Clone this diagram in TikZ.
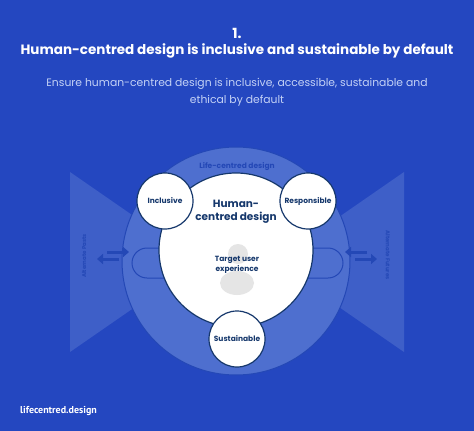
\documentclass[tikz,border=0pt]{standalone}
\usepackage{fontspec}
\setmainfont{Poppins}
\newfontfamily\footfont{PT Sans}
\usetikzlibrary{positioning,arrows.meta}

\definecolor{bgblue}{RGB}{36,71,192}
\definecolor{sideblue}{RGB}{62,95,200}
\definecolor{lifeblue}{RGB}{78,111,207}
\definecolor{lineblue}{RGB}{36,72,182}
\definecolor{navy}{RGB}{22,56,108}
\definecolor{subtext}{RGB}{196,210,246}

\begin{document}
\begin{tikzpicture}[x=1pt, y=-1pt,
    every node/.style={inner sep=0pt, align=center},
    smallcirc/.style={circle, draw=navy, line width=1.2pt, fill=white, minimum size=56pt,
        font=\fontsize{7.5}{9}\selectfont\bfseries, text=navy},
    pill/.style={draw=lineblue, line width=1pt, fill=lifeblue, rounded corners=15pt},
    swap/.style={-{Triangle[length=6pt,width=10pt]}, line width=3pt, draw=lineblue},
    sidelabel/.style={font=\fontsize{5.5}{6}\selectfont\bfseries, text=lineblue}]
    \useasboundingbox (0,0) rectangle (474,431);
    \fill[bgblue] (0,0) rectangle (474,431);

    % header
    \node[text=white, font=\fontsize{14}{16}\selectfont\bfseries] (num) at (237,33) {1.};
    \node[text=white, font=\fontsize{13.5}{16}\selectfont\bfseries] (title) at (237,51)
        {Human-centred design is inclusive and sustainable by default};
    \node[text=subtext, font=\fontsize{10.8}{17}\selectfont] (intro) at (237,92)
        {Ensure human-centred design is inclusive, accessible, sustainable and\\ethical by default};

    % alternate pasts and futures
    \fill[sideblue] (70,172) -- (200,262) -- (70,352) -- cycle;
    \fill[sideblue] (404,172) -- (274,262) -- (404,352) -- cycle;
    \node[sidelabel, rotate=90] (pasts) at (84,256) {Alternate Pasts};
    \node[sidelabel, rotate=-90] (futures) at (388,255) {Alternate Futures};

    % life-centred design
    \node[circle, minimum size=228pt, fill=lifeblue, draw=lineblue, line width=1pt] (life) at (236,261) {};
    \node[font=\fontsize{7.5}{9}\selectfont\bfseries, text=lineblue] (lifelbl) at (237,167) {Life-centred design};

    \draw[pill] (132,248) rectangle (205,278);
    \draw[pill] (268,248) rectangle (343,278);

    \coordinate (lp1) at (107,252);
    \coordinate (lp2) at (129,252);
    \coordinate (lp3) at (119,259);
    \coordinate (lp4) at (97,259);
    \draw[swap] (lp1) -- (lp2);
    \draw[swap] (lp3) -- (lp4);
    \coordinate (rf1) at (367,252);
    \coordinate (rf2) at (345,252);
    \coordinate (rf3) at (355,259);
    \coordinate (rf4) at (377,259);
    \draw[swap] (rf1) -- (rf2);
    \draw[swap] (rf3) -- (rf4);

    % human-centred design
    \node[circle, minimum size=154pt, fill=white, draw=navy, line width=1.2pt] (hcd) at (236,250) {};
    \fill[black!10] (238,254) circle (10);
    \fill[black!10] (237,283) ellipse (17 and 12);
    \node[font=\fontsize{10.5}{13}\selectfont\bfseries, text=navy] (hcdlbl) at (236,212) {Human-\\centred design};
    \node[font=\fontsize{7.5}{9.5}\selectfont\bfseries, text=navy] (user) at (237,265) {Target user\\experience};

    \node[smallcirc] (incl) at (165,201) {Inclusive};
    \node[smallcirc] (resp) at (308,201) {Responsible};
    \node[smallcirc] (sust) at (237,339) {Sustainable};

    % footer
    \node[anchor=west, text=white, font=\footfont\fontsize{10}{12}\selectfont\bfseries] (site) at (20,411) {lifecentred.design};
\end{tikzpicture}
\end{document}
